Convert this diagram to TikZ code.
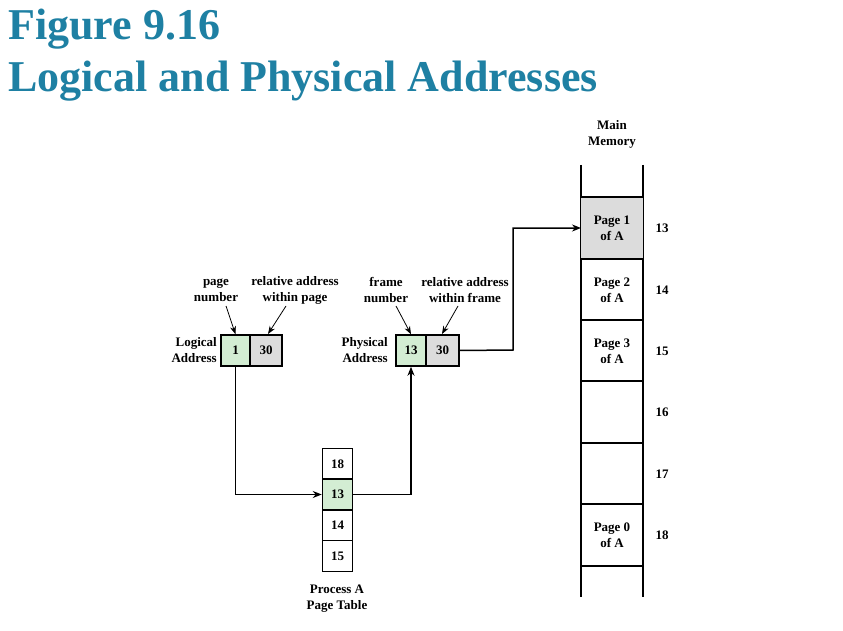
\documentclass[tikz,border=0pt]{standalone}
\usepackage{fontspec}
\setmainfont{Liberation Serif}
\usetikzlibrary{arrows.meta}
\definecolor{ttl}{HTML}{1E80A3}
\definecolor{grn}{HTML}{D3EDD3}
\definecolor{gry}{HTML}{DCDCDC}
\begin{document}
\begin{tikzpicture}[x=1pt,y=-1pt,
  lbl/.style={font=\fontsize{13}{16}\selectfont\bfseries,align=center,inner sep=0},
  cell/.style={draw,line width=1.5pt,minimum width=30pt,minimum height=31pt,inner sep=0,font=\fontsize{13}{16}\selectfont\bfseries},
  arr/.style={line width=1.5pt,-{Stealth[length=9pt,width=7pt]}},
  ann/.style={line width=0.8pt,-{Stealth[length=8pt,width=6pt]}}]
\useasboundingbox (0,0) rectangle (843,631);
\node[anchor=base west,text=ttl,font=\fontsize{44}{48}\selectfont\bfseries,inner sep=0] (t1) at (8,40) {Figure 9.16};
\node[anchor=base west,text=ttl,font=\fontsize{44}{48}\selectfont\bfseries,inner sep=0] (t2) at (8,92) {Logical and Physical Addresses};
% memory
\node[lbl] (mm) at (612,134) {Main\\Memory};
\draw[line width=1.5pt] (581,165) -- (581,597) (643,165) -- (643,597);
\fill[gry] (581,197) rectangle (643,259);
\foreach \y in {197,259,320,381,443,504,566} \draw[line width=1.5pt] (581,\y) -- (643,\y);
\node[lbl] (p1) at (612,228) {Page 1\\of A};
\node[lbl] (p2) at (612,290) {Page 2\\of A};
\node[lbl] (p3) at (612,351) {Page 3\\of A};
\node[lbl] (p0) at (612,535) {Page 0\\of A};
\foreach \n/\y in {13/228,14/290,15/351,16/412,17/474,18/535} \node[lbl] (f\n) at (662,\y) {\n};
\coordinate (memin) at (581,228);
% logical
\node[cell,fill=grn,minimum width=29pt] (l1) at (235.5,350.5) {1};
\node[cell,fill=gry,minimum width=32pt] (l30) at (266,350.5) {30};
\node[lbl,anchor=east,align=right] (la) at (217,350) {Logical\\Address};
% physical
\node[cell,fill=grn] (ph13) at (411,350.5) {13};
\node[cell,fill=gry,minimum width=33pt] (ph30) at (442.5,350.5) {30};
\node[lbl,anchor=east,align=right] (pa) at (388,350) {Physical\\Address};
% annotations
\node[lbl] (pn) at (216,290) {page\\number};
\node[lbl] (rp) at (295,290) {relative address\\within page};
\node[lbl] (fn) at (386,290) {frame\\number};
\node[lbl] (rf) at (465,290) {relative address\\within frame};
\draw[ann] (226,306) -- (l1.north);
\draw[ann] (286,306) -- (268,334);
\draw[ann] (396,306) -- (ph13.north);
\draw[ann] (458,306) -- (442,334);
% page table
\node[cell,fill=white] (pt18) at (337.5,464) {18};
\node[cell,fill=grn] (pt13) at (337.5,494.5) {13};
\node[cell,fill=white] (pt14) at (337.5,525.5) {14};
\node[cell,fill=white] (pt15) at (337.5,556) {15};
\node[lbl] (ptl) at (337,599) {Process A\\Page Table};
% connectors
\draw[arr] (l1.south) |- (pt13.west);
\draw[arr] (pt13.east) -| (ph13.south);
\draw[arr] (ph30.east) -- (513,350) |- (memin);
\end{tikzpicture}
\end{document}
